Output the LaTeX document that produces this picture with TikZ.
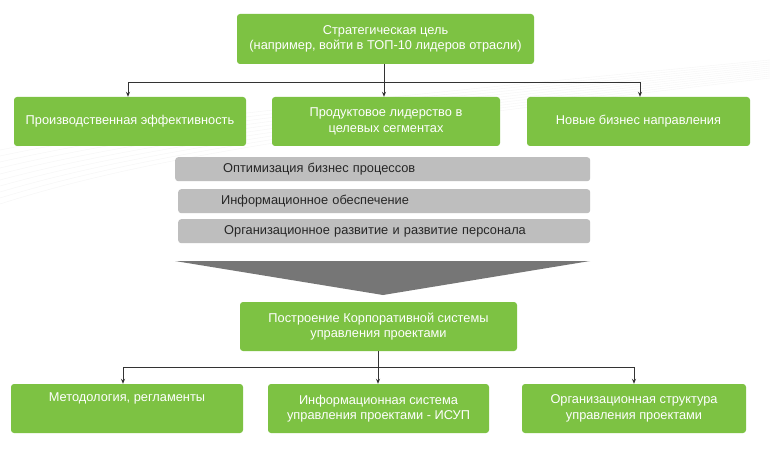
\documentclass[tikz,border=0pt]{standalone}
\usepackage{fontspec}
\setmainfont{Liberation Sans}
\usetikzlibrary{positioning,arrows.meta}
\definecolor{leaf}{HTML}{7DC243}
\definecolor{bar}{HTML}{BEBEBE}
\definecolor{wedge}{HTML}{767676}

\begin{document}
\begin{tikzpicture}[x=1pt,y=-1pt,font=\fontsize{12.8}{15.5}\selectfont]
        \tikzstyle{goal}=[fill=leaf,rounded corners=3pt,text=white,align=center,inner sep=0pt]
        \tikzstyle{bar}=[fill=bar,rounded corners=3pt,text=black!85,anchor=north west,inner sep=0pt]
        \tikzstyle{link}=[draw=black!80,line width=0.8pt]

        \useasboundingbox (0,0) rectangle (770,449);
        \fill[white] (0,0) rectangle (770,449);
        % faint swoosh
        \foreach \k in {0,...,9}
            \draw[black!4] (0,{150+6*\k}) .. controls (150,{120+4*\k}) and (350,{100+3*\k}) .. (770,{60+2*\k});

        \node[goal,minimum width=297pt,minimum height=50pt](top) at (385.5,39){Стратегическая цель\\(например, войти в ТОП-10 лидеров отрасли)};

        \node[goal,minimum width=232pt,minimum height=49pt](prod) at (130,121.5){Производственная эффективность};
        \node[goal,minimum width=228pt,minimum height=49pt](lead) at (386,121.5){Продуктовое лидерство в\\целевых сегментах};
        \node[goal,minimum width=223pt,minimum height=49pt](new) at (638.5,121.5){Новые бизнес направления};

        \node[bar,minimum width=415pt,minimum height=24pt,text width=415pt](b1) at (175,157){\hspace{48pt}Оптимизация бизнес процессов};
        \node[bar,minimum width=412pt,minimum height=24pt,text width=412pt](b2) at (178,189){\hspace{43pt}Информационное обеспечение};
        \node[bar,minimum width=412pt,minimum height=24pt,text width=412pt](b3) at (178,219){\hspace{46pt}Организационное развитие и развитие персонала};

        \fill[wedge] (175,261) -- (590,261) -- (383,295) -- cycle;

        \node[goal,minimum width=277pt,minimum height=49pt](sys) at (378.5,326.5){Построение Корпоративной системы\\управления проектами};

        \node[goal,minimum width=232pt,minimum height=49pt](meth) at (127,408.5){Методология, регламенты\\[8pt]};
        \node[goal,minimum width=221pt,minimum height=49pt](isup) at (378.5,408.5){Информационная система\\управления проектами - ИСУП};
        \node[goal,minimum width=224pt,minimum height=49pt](org) at (634,408.5){Организационная структура\\управления проектами};

        \coordinate (j1) at (384,82);
        \coordinate (j2) at (378,367);
        \draw[link] (top.south -| j1) -- (j1);
        \draw[link,-{Stealth[length=5pt,width=4pt]}] (j1) -| (prod.north -| 128,0);
        \draw[link,-{Stealth[length=5pt,width=4pt]}] (j1) -- (lead.north -| j1);
        \draw[link,-{Stealth[length=5pt,width=4pt]}] (j1) -| (new.north -| 640,0);

        \draw[link] (sys.south -| j2) -- (j2);
        \draw[link,-{Stealth[length=5pt,width=4pt]}] (j2) -| (meth.north -| 123,0);
        \draw[link,-{Stealth[length=5pt,width=4pt]}] (j2) -- (isup.north -| j2);
        \draw[link,-{Stealth[length=5pt,width=4pt]}] (j2) -| (org.north -| 634,0);

    \end{tikzpicture}
\end{document}
